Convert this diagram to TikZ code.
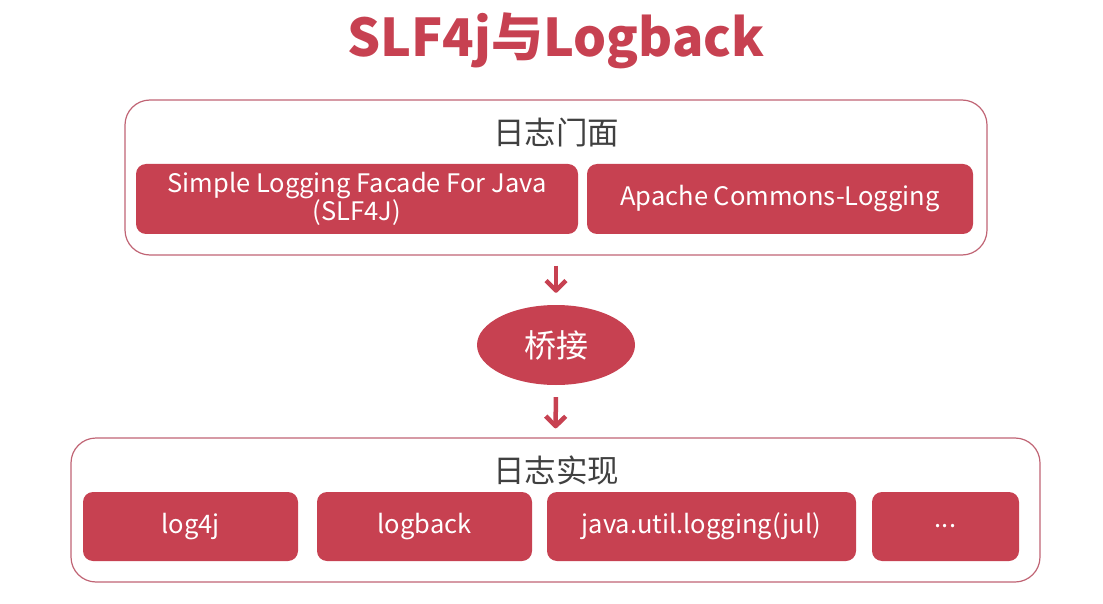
\documentclass[tikz,border=0pt]{standalone}
\usepackage{fontspec}
\setmainfont{Noto Sans CJK SC}
\usepackage{tikz}
\usetikzlibrary{arrows.meta,shapes.geometric}

\definecolor{slfred}{RGB}{199,65,81}
\definecolor{framered}{RGB}{192,100,116}
\definecolor{labelgray}{RGB}{64,64,64}

\begin{document}
\begin{tikzpicture}[x=1pt,y=1pt,yscale=-1,xscale=1,
    outerbox/.style={draw=framered,line width=1.2pt,rounded corners=25pt,inner sep=0pt},
    innerbox/.style={fill=slfred,rounded corners=10pt,text=white,inner sep=0pt,align=center,font=\fontsize{25.5}{28}\selectfont},
    sectionlabel/.style={text=labelgray,inner sep=0.75pt,font=\fontsize{31.5}{36}\selectfont},
    flowarrow/.style={draw=slfred,line width=4.5pt,-{Straight Barb[length=10pt,width=20pt,line join=round]}}]
        \useasboundingbox (0,0) rectangle (1103,604);

        % Text Node
        \node [anchor=base,inner sep=0pt,text=slfred,font=\fontsize{52}{60}\selectfont\bfseries] (title) at (556,57) {SLF4j与Logback};

        %Shape: Rounded Rect [id:facade]
        \node [outerbox,minimum width=862,minimum height=155] (facade) at (556,177.5) {};
        % Text Node
        \node [sectionlabel] (facadelabel) at (556,133) {日志门面};
        %Shape: Rounded Rect
        \node [innerbox,minimum width=442,minimum height=70] (slf4j) at (357,199) {Simple Logging Facade For Java\\(SLF4J)};
        %Shape: Rounded Rect
        \node [innerbox,minimum width=386,minimum height=70] (jcl) at (780,199) {Apache Commons-Logging};

        %Shape: Ellipse
        \node [ellipse,fill=slfred,text=white,minimum width=158,minimum height=80,inner sep=0pt,font=\fontsize{32}{36}\selectfont] (bridge) at (556,345) {桥接};

        %Shape: Rounded Rect [id:impl]
        \node [outerbox,minimum width=969,minimum height=144] (impl) at (555.5,510) {};
        % Text Node
        \node [sectionlabel] (impllabel) at (556,470) {日志实现};
        %Shape: Rounded Rect
        \node [innerbox,minimum width=215,minimum height=69] (logfourj) at (190.5,526.5) {log4j};
        \node [innerbox,minimum width=215,minimum height=69] (logback) at (424.5,526.5) {logback};
        \node [innerbox,minimum width=309,minimum height=69] (jul) at (701.5,526.5) {java.util.logging(jul)};
        \node [innerbox,minimum width=147,minimum height=69] (others) at (945.5,526.5) {...};

        %Straight Lines
        \draw [flowarrow,shorten <=10pt,shorten >=12pt] (facade.south) -- (bridge.north);
        %Straight Lines
        \draw [flowarrow,shorten <=12pt,shorten >=9pt] (bridge.south) -- (impl.north);

    \end{tikzpicture}
\end{document}
